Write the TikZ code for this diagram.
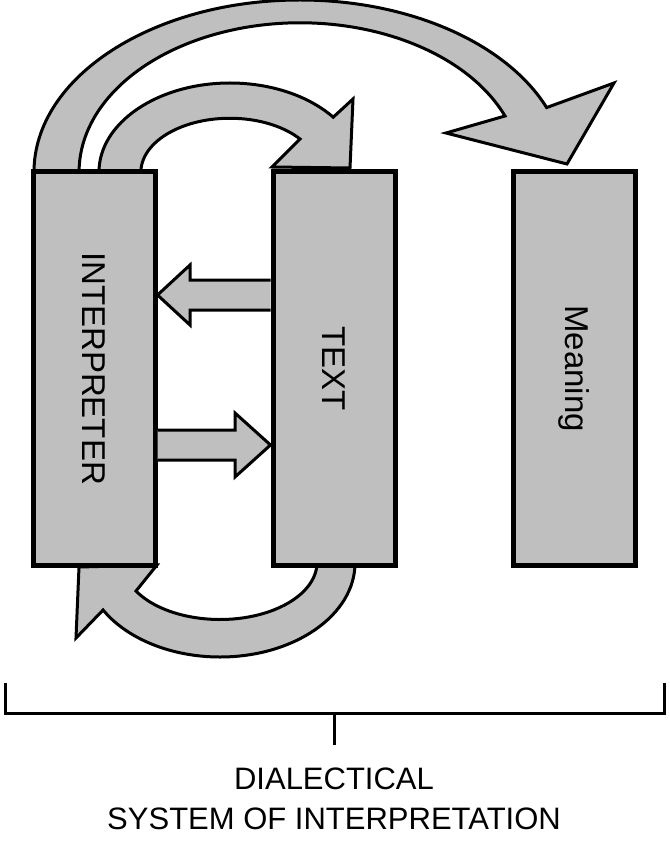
\documentclass[tikz,border=0pt]{standalone}
\usepackage{fontspec}
\setmainfont{Liberation Sans}
\begin{document}
\begin{tikzpicture}[x=1pt,y=-1pt,
  box/.style={draw,line width=5pt,fill=gray!50!white,minimum width=122pt,minimum height=393pt,inner sep=0pt},
  bigarrow/.style={draw,line width=3pt,fill=gray!50!white,line join=miter},
  lab/.style={font=\fontsize{33}{36}\selectfont}]
\useasboundingbox (0,0) rectangle (669,866);
% curved arrows
\path[bigarrow] (34,172) arc[start angle=180,end angle=338,x radius=266,y radius=172]
  -- (614,83) -- (567,164) -- (446,133) -- (505,116)
  arc[start angle=338,end angle=180,x radius=221,y radius=149] -- cycle;
\path[bigarrow] (99,172) arc[start angle=180,end angle=322,x radius=131,y radius=89]
  -- (353,99) -- (350,168) -- (272,167) -- (300,139)
  arc[start angle=322,end angle=180,x radius=89,y radius=54] -- cycle;
\path[bigarrow] (355,563) arc[start angle=0,end angle=150,x radius=135,y radius=94]
  -- (76,638) -- (79,567) -- (157,565) -- (136,591)
  arc[start angle=150,end angle=0,x radius=97,y radius=57] -- cycle;
% boxes
\node[box] (interp) at (94,368.5) {};
\node[box] (text) at (334,368.5) {};
\node[box] (meaning) at (574,368.5) {};
\node[lab,rotate=-90] at (interp) {INTERPRETER};
\node[lab,rotate=-90] at (text) {TEXT};
\node[lab,rotate=-90] at (meaning) {Meaning};
% straight arrows
\path[bigarrow] (text.west |- 0,280) -- (190,280) -- (190,265) -- (interp.east |- 0,295)
  -- (190,325) -- (190,310) -- (text.west |- 0,310);
\path[bigarrow] (interp.east |- 0,430) -- (235,430) -- (235,413) -- (text.west |- 0,445)
  -- (235,477) -- (235,460) -- (interp.east |- 0,460);
% bracket
\coordinate (bl) at (5,683); \coordinate (br) at (664,683);
\coordinate (bm) at (334,713); \coordinate (bt) at (334,745);
\draw[line width=3pt] (bl) -- (5,713) -- (664,713) -- (br);
\draw[line width=3pt] (bm) -- (bt);
\node[lab,align=center,font=\fontsize{31}{40}\selectfont] (cap) at (334,799) {DIALECTICAL\\SYSTEM OF INTERPRETATION};
\end{tikzpicture}
\end{document}
